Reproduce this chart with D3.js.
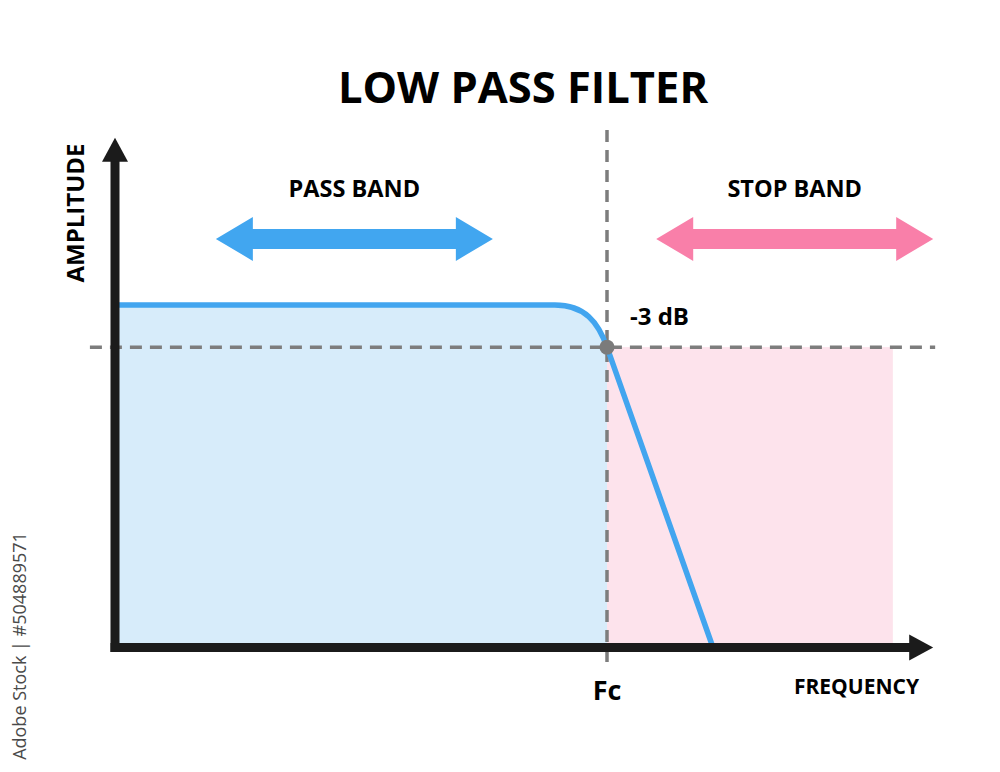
<!DOCTYPE html>
<html><head><meta charset="utf-8">
<script src="https://cdn.jsdelivr.net/npm/d3@7/dist/d3.min.js"></script>
<style>
html,body{margin:0;padding:0;background:#fff;}
svg{display:block;font-family:"Open Sans","Noto Sans",sans-serif;}
</style></head>
<body>
<svg id="c" width="1000" height="772"></svg>
<script>
// ---- data (normalized: frequency in units of Fc, amplitude in units of pass-band level)
const title = "LOW PASS FILTER";
const cutoff = 1;               // Fc
const cutoffLevel = 0.877;      // -3 dB point amplitude
const passBandLevel = 1;
const flatSegment = [[0, 1], [0.894, 1]];          // flat pass band
const kneeControls = [[0.955, 1], [0.982, 0.95], [1, 0.877]]; // rounded knee (bezier)
const rollOffEnd = [1.2154, 0];                     // straight roll-off reaches zero
const stopBandEnd = 1.581;
const axisXEnd = 1.663, axisYEnd = 1.488;
const bands = [
  {label: "PASS BAND", from: 0.205, to: 0.768, level: 1.193, color: "#41a6f0"},
  {label: "STOP BAND", from: 1.10, to: 1.663, level: 1.193, color: "#f97fa9"}
];
const bandLabelLevel = 1.314;
const labels = {cutoff: "Fc", db: "-3 dB", x: "FREQUENCY", y: "AMPLITUDE"};
const watermark = "Adobe Stock | #504889571";

const svg = d3.select("#c");
const x = d3.scaleLinear().domain([0, 1]).range([115, 607]);
const y = d3.scaleLinear().domain([0, 1]).range([647.5, 305]);

function curvePath(closeFill) {
  const p = d3.path();
  p.moveTo(x(flatSegment[0][0]), y(flatSegment[0][1]));
  p.lineTo(x(flatSegment[1][0]), y(flatSegment[1][1]));
  p.bezierCurveTo(x(kneeControls[0][0]), y(kneeControls[0][1]),
                  x(kneeControls[1][0]), y(kneeControls[1][1]),
                  x(kneeControls[2][0]), y(kneeControls[2][1]));
  if (closeFill) {
    p.lineTo(x(cutoff), y(0));
    p.lineTo(x(0), y(0));
    p.closePath();
  } else {
    p.lineTo(x(rollOffEnd[0]), y(rollOffEnd[1]));
  }
  return p.toString();
}
// pass band fill (under the curve, up to Fc)
svg.append("path").attr("d", curvePath(true)).attr("fill", "#d7ecfa");
// stop band fill
svg.append("rect")
  .attr("x", x(cutoff)).attr("y", y(cutoffLevel))
  .attr("width", x(stopBandEnd) - x(cutoff)).attr("height", y(0) - y(cutoffLevel))
  .attr("fill", "#fde3ec");

// dashed guide lines
svg.append("line")
  .attr("x1", x(-0.051)).attr("x2", x(1.667)).attr("y1", y(cutoffLevel)).attr("y2", y(cutoffLevel))
  .attr("stroke", "#7d7d7d").attr("stroke-width", 3.5).attr("stroke-dasharray", "12,8");
svg.append("line")
  .attr("x1", x(cutoff)).attr("x2", x(cutoff)).attr("y1", y(1.511)).attr("y2", y(-0.051))
  .attr("stroke", "#7d7d7d").attr("stroke-width", 3.5).attr("stroke-dasharray", "12,8");

// response curve
svg.append("path").attr("d", curvePath(false))
  .attr("fill", "none").attr("stroke", "#42a5ef").attr("stroke-width", 5.5)
  .attr("stroke-linejoin", "round");

// -3 dB point
svg.append("circle").attr("cx", x(cutoff)).attr("cy", y(cutoffLevel)).attr("r", 7.5).attr("fill", "#7b7b7b");

// axes
const axisColor = "#1b1b1b";
svg.append("line").attr("x1", x(0)).attr("x2", x(0)).attr("y1", y(0) + 4.5).attr("y2", y(axisYEnd) + 20)
  .attr("stroke", axisColor).attr("stroke-width", 9);
svg.append("path")
  .attr("d", `M${x(0)},${y(axisYEnd)} L${x(0) + 13},${y(axisYEnd) + 24} L${x(0) - 13},${y(axisYEnd) + 24} Z`)
  .attr("fill", axisColor);
svg.append("line").attr("x1", x(0) - 4.5).attr("x2", x(axisXEnd) - 20).attr("y1", y(0)).attr("y2", y(0))
  .attr("stroke", axisColor).attr("stroke-width", 9);
svg.append("path")
  .attr("d", `M${x(axisXEnd)},${y(0)} L${x(axisXEnd) - 24},${y(0) - 13} L${x(axisXEnd) - 24},${y(0) + 13} Z`)
  .attr("fill", axisColor);

// band arrows
const headLen = 37, headHalf = 22, shaftHalf = 10;
bands.forEach(b => {
  const x0 = x(b.from), x1 = x(b.to), cy = y(b.level);
  const d = `M${x0},${cy} L${x0 + headLen},${cy - headHalf} L${x0 + headLen},${cy - shaftHalf}
    L${x1 - headLen},${cy - shaftHalf} L${x1 - headLen},${cy - headHalf} L${x1},${cy}
    L${x1 - headLen},${cy + headHalf} L${x1 - headLen},${cy + shaftHalf}
    L${x0 + headLen},${cy + shaftHalf} L${x0 + headLen},${cy + headHalf} Z`;
  svg.append("path").attr("d", d).attr("fill", b.color);
  svg.append("text").attr("x", (x0 + x1) / 2).attr("y", y(bandLabelLevel))
    .attr("text-anchor", "middle").attr("font-weight", 700).attr("font-size", 23.5)
    .attr("fill", "#000").text(b.label);
});

// texts
svg.append("text").attr("x", 523).attr("y", 103).attr("text-anchor", "middle")
  .attr("font-weight", 700).attr("font-size", 43.5).attr("fill", "#000").text(title);
svg.append("text").attr("x", x(cutoff) + 23).attr("y", 325)
  .attr("font-weight", 700).attr("font-size", 24).attr("fill", "#000").text(labels.db);
svg.append("text").attr("x", x(cutoff)).attr("y", 700).attr("text-anchor", "middle")
  .attr("font-weight", 700).attr("font-size", 27).attr("fill", "#000").text(labels.cutoff);
svg.append("text").attr("x", 919).attr("y", 694).attr("text-anchor", "end")
  .attr("font-weight", 700).attr("font-size", 21).attr("fill", "#000").text(labels.x);
svg.append("text").attr("transform", "translate(84,213) rotate(-90)").attr("text-anchor", "middle")
  .attr("font-weight", 700).attr("font-size", 24).attr("fill", "#000").text(labels.y);
svg.append("text").attr("transform", "translate(26,646) rotate(-90)").attr("text-anchor", "middle")
  .attr("font-size", 18).attr("fill", "#4a4a4a").text(watermark);
</script>
</body></html>
